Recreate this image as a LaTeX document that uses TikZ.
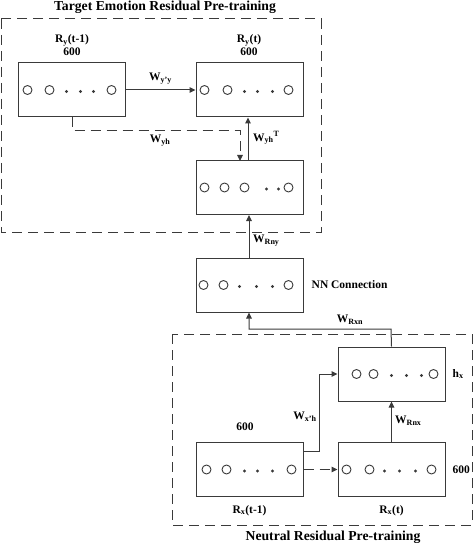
\documentclass[tikz,border=0pt]{standalone}
\usepackage{fontspec}
\setmainfont{Liberation Serif}
\usetikzlibrary{arrows.meta,positioning,calc}

\tikzset{
  layer/.style={draw=linegray, line width=1pt, minimum width=107pt, minimum height=54pt, inner sep=0pt},
  unit/.style={draw=linegray, line width=0.9pt, circle, minimum size=9pt, inner sep=0pt},
  dotc/.style={fill=linegray, circle, minimum size=3.2pt, inner sep=0pt},
  region/.style={draw=linegray, line width=1pt, dash pattern=on 10pt off 6pt},
  link/.style={draw=linegray, line width=1pt, -{Triangle[length=6pt,width=5.5pt]}},
  lbl/.style={font=\fontsize{11.5}{12}\selectfont\bfseries, text=black, inner sep=0pt},
  head/.style={font=\fontsize{13.7}{15}\selectfont\bfseries, text=black, inner sep=0pt}
}
\definecolor{linegray}{HTML}{3A3A3A}

\begin{document}
\begin{tikzpicture}[x=1pt, y=-1pt]
  \useasboundingbox (0,0) rectangle (474,545);

  % dashed regions
  \draw[region] (1,19) rectangle (321,232);
  \draw[region] (172,334) rectangle (472,525);
  \node[head] (toptitle) at (165,7) {Target Emotion Residual Pre-training};
  \node[head] (bottitle) at (333,537) {Neutral Residual Pre-training};

  % layers
  \node[layer] (ryprev) at (71.5,90) {};
  \node[layer] (ryt) at (249.5,90) {};
  \node[layer] (hy) at (249.5,187.5) {};
  \node[layer] (nn) at (249.5,285) {};
  \node[layer] (hx) at (391.5,374) {};
  \node[layer] (rxprev) at (249.5,469.5) {};
  \node[layer] (rxt) at (391.5,469.5) {};

  % units inside the layers
  \foreach \n/\cs/\ds in {ryprev/{10,32,94}/{49,63,76},
                          ryt/{9,32,93}/{49,62,77},
                          hy/{9,29,49,93}/{71,83},
                          nn/{8,28,93}/{44,61,77},
                          hx/{19,36,96}/{54,69,84},
                          rxprev/{11,31,96}/{49,62,77},
                          rxt/{9,32,94}/{47,62,78}} {
    \foreach \c in \cs
      \node[unit] at ($(\n.west)+(\c,0)$) {};
    \foreach \d in \ds
      \node[dotc] at ($(\n.west)+(\d,1.5)$) {};
  }

  % layer labels
  \node[lbl, align=center] (lryprev) at (72,45) {R\textsubscript{y}(t-1)\\[1pt]600};
  \node[lbl, align=center] (lryt) at (249,45) {R\textsubscript{y}(t)\\[1pt]600};
  \node[lbl, right=8pt of nn] (lnn) {NN Connection};
  \node[lbl, right=7pt of hx] (lhx) {h\textsubscript{x}};
  \node[lbl, right=7pt of rxt] (lrxt) {600};
  \node[lbl] (lrxprev) at (245,427) {600};
  \node[lbl, below=8pt of rxprev] (nrxprev) {R\textsubscript{x}(t-1)};
  \node[lbl, below=8pt of rxt] (nrxt) {R\textsubscript{x}(t)};

  % connections
  \draw[link] (ryprev) -- node[lbl, above=5pt] {W\textsubscript{y'y}} (ryt);
  \coordinate (tapy) at (72,131);
  \draw[link, dash pattern=on 10pt off 6pt] (ryprev.south -| tapy) -- (tapy) -- (tapy -| 240,0) -- (240,161);
  \node[lbl] (lwyh) at (160,141) {W\textsubscript{yh}};
  \draw[link] (hy.north -| 248,0) -- (ryt.south -| 248,0);
  \node[lbl, anchor=west] (lwyht) at (253,138) {W\textsubscript{yh}\textsuperscript{T}};
  \draw[link] (nn.north -| 249,0) -- (hy.south -| 249,0);
  \node[lbl, anchor=west] (lwrny) at (253,241) {W\textsubscript{Rny}};
  \coordinate (turn) at (391,329);
  \draw[link] (hx.north) -- (turn) -- (turn -| 249,0) -- (nn.south -| 249,0);
  \node[lbl] (lwrxn) at (350,320) {W\textsubscript{Rxn}};
  \coordinate (bend) at (319,451);
  \draw[link] (rxprev.east |- bend) -- (bend) -- (bend |- hx.west) -- (hx.west);
  \node[lbl] (lwxh) at (305,417) {W\textsubscript{x'h}};
  \draw[link, dash pattern=on 10pt off 6pt] (rxprev) -- (rxt);
  \draw[link] (rxt) -- (hx);
  \node[lbl, anchor=west] (lwrnx) at (395,421) {W\textsubscript{Rnx}};
\end{tikzpicture}
\end{document}
